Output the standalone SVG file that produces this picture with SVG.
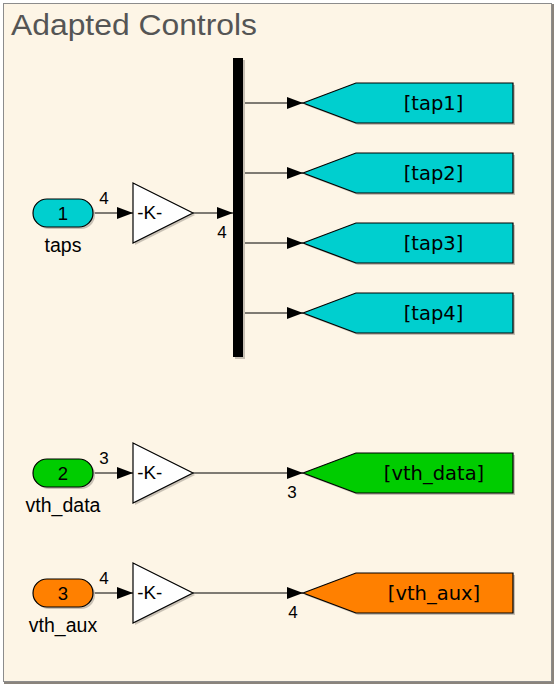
<svg xmlns="http://www.w3.org/2000/svg" width="557" height="687" viewBox="0 0 557 687">
<defs>
<style>
.lbl{font-family:"Liberation Sans",Arial,sans-serif;font-size:19.5px;fill:#000;text-anchor:middle}
.num{font-family:"Liberation Sans",Arial,sans-serif;font-size:17px;fill:#000;text-anchor:middle}
.dig{font-family:"Liberation Sans",Arial,sans-serif;font-size:18.5px;fill:#000;text-anchor:middle}
.k{font-family:"Liberation Sans",Arial,sans-serif;font-size:18px;fill:#000;text-anchor:middle}
.tag{font-family:"DejaVu Sans",sans-serif;font-size:19.5px;fill:#000;text-anchor:middle}
.blk{stroke:#000;stroke-width:1.2}
.shd{fill:#c8c0b4}
.wire{stroke:#000;stroke-width:1;fill:none}
</style>
<marker id="arr" viewBox="0 0 16 12" refX="16" refY="6" markerWidth="16" markerHeight="12" markerUnits="userSpaceOnUse" orient="auto">
<path d="M0,0 L16,6 L0,12 Z" fill="#000"/>
</marker>
</defs>
<rect x="4" y="4" width="550" height="680" fill="#8a847c"/>
<rect x="3.5" y="3.5" width="548" height="678" fill="#fdf5e6" stroke="#8c8c8c" stroke-width="1"/>
<text x="11" y="35" textLength="246" lengthAdjust="spacingAndGlyphs" style="font-family:'Liberation Sans',Arial,sans-serif;font-size:30px;fill:#555">Adapted Controls</text>

<g id="connectors">
<line class="wire" x1="93" y1="213" x2="133" y2="213" marker-end="url(#arr)"/>
<line class="wire" x1="193" y1="213" x2="233" y2="213" marker-end="url(#arr)"/>
<line class="wire" x1="243" y1="103" x2="303" y2="103" marker-end="url(#arr)"/>
<line class="wire" x1="243" y1="173" x2="303" y2="173" marker-end="url(#arr)"/>
<line class="wire" x1="243" y1="243" x2="303" y2="243" marker-end="url(#arr)"/>
<line class="wire" x1="243" y1="313" x2="303" y2="313" marker-end="url(#arr)"/>
<line class="wire" x1="93" y1="473" x2="133" y2="473" marker-end="url(#arr)"/>
<line class="wire" x1="193" y1="473" x2="303" y2="473" marker-end="url(#arr)"/>
<line class="wire" x1="93" y1="593" x2="133" y2="593" marker-end="url(#arr)"/>
<line class="wire" x1="193" y1="593" x2="303" y2="593" marker-end="url(#arr)"/>
<text class="num" x="104" y="203.5">4</text>
<text class="num" x="222" y="237.5">4</text>
<text class="num" x="104" y="463.5">3</text>
<text class="num" x="292" y="497.5">3</text>
<text class="num" x="104" y="583.5">4</text>
<text class="num" x="293" y="617.5">4</text>
</g>

<g id="inport1">
<rect class="shd" x="35" y="201" width="60" height="28" rx="14"/>
<rect class="blk" x="33" y="199" width="60" height="28" rx="14" fill="#00cfcf"/>
<text class="dig" x="63" y="220">1</text>
<text class="lbl" x="63" y="251.5">taps</text>
</g>
<g id="gain1">
<polygon class="shd" points="135,185 195,215 135,245"/>
<polygon class="blk" points="133,183 193,213 133,243" fill="#fff"/>
<text class="k" x="149.7" y="219" textLength="25" lengthAdjust="spacingAndGlyphs">-K-</text>
</g>
<g id="demux">
<rect class="shd" x="235" y="60" width="10" height="299"/>
<rect x="233" y="58" width="10" height="299" fill="#000"/>
</g>
<g id="goto_tap1">
<polygon class="shd" points="305,105 358,85 515,85 515,125 358,125"/>
<polygon class="blk" points="303,103 356,83 513,83 513,123 356,123" fill="#00cfcf"/>
<text class="tag" x="433.5" y="110">[tap1]</text>
</g>
<g id="goto_tap2">
<polygon class="shd" points="305,175 358,155 515,155 515,195 358,195"/>
<polygon class="blk" points="303,173 356,153 513,153 513,193 356,193" fill="#00cfcf"/>
<text class="tag" x="433.5" y="180">[tap2]</text>
</g>
<g id="goto_tap3">
<polygon class="shd" points="305,245 358,225 515,225 515,265 358,265"/>
<polygon class="blk" points="303,243 356,223 513,223 513,263 356,263" fill="#00cfcf"/>
<text class="tag" x="433.5" y="250">[tap3]</text>
</g>
<g id="goto_tap4">
<polygon class="shd" points="305,315 358,295 515,295 515,335 358,335"/>
<polygon class="blk" points="303,313 356,293 513,293 513,333 356,333" fill="#00cfcf"/>
<text class="tag" x="433.5" y="320">[tap4]</text>
</g>

<g id="inport2">
<rect class="shd" x="35" y="461" width="60" height="28" rx="14"/>
<rect class="blk" x="33" y="459" width="60" height="28" rx="14" fill="#00cc00"/>
<text class="dig" x="63" y="480">2</text>
<text class="lbl" x="63" y="511.5">vth_data</text>
</g>
<g id="gain2">
<polygon class="shd" points="135,445 195,475 135,505"/>
<polygon class="blk" points="133,443 193,473 133,503" fill="#fff"/>
<text class="k" x="149.7" y="479" textLength="25" lengthAdjust="spacingAndGlyphs">-K-</text>
</g>
<g id="goto_vth_data">
<polygon class="shd" points="305,475 358,455 515,455 515,495 358,495"/>
<polygon class="blk" points="303,473 356,453 513,453 513,493 356,493" fill="#00cc00"/>
<text class="tag" x="434" y="480">[vth_data]</text>
</g>

<g id="inport3">
<rect class="shd" x="35" y="581" width="60" height="28" rx="14"/>
<rect class="blk" x="33" y="579" width="60" height="28" rx="14" fill="#ff8000"/>
<text class="dig" x="63" y="600">3</text>
<text class="lbl" x="63" y="631.5">vth_aux</text>
</g>
<g id="gain3">
<polygon class="shd" points="135,565 195,595 135,625"/>
<polygon class="blk" points="133,563 193,593 133,623" fill="#fff"/>
<text class="k" x="149.7" y="599" textLength="25" lengthAdjust="spacingAndGlyphs">-K-</text>
</g>
<g id="goto_vth_aux">
<polygon class="shd" points="305,595 358,575 515,575 515,615 358,615"/>
<polygon class="blk" points="303,593 356,573 513,573 513,613 356,613" fill="#ff8000"/>
<text class="tag" x="434" y="600">[vth_aux]</text>
</g>
</svg>
